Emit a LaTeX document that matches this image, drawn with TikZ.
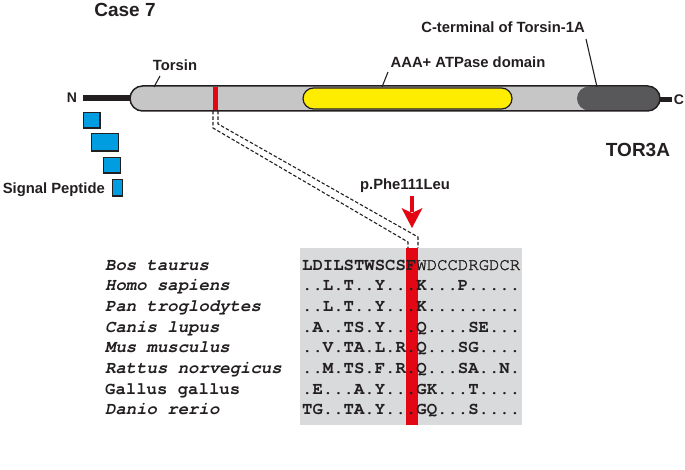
\documentclass[tikz,border=0pt]{standalone}
\usepackage{fontspec}
\setmainfont{Liberation Sans}
\newfontfamily\seqfont{TeX Gyre Cursor}
\newfontfamily\seqmid[FakeBold=1.5]{TeX Gyre Cursor}
\definecolor{ink}{HTML}{231F20}
\definecolor{bargray}{HTML}{C6C6C6}
\definecolor{ctermgray}{HTML}{58585A}
\definecolor{aaayellow}{HTML}{FFED00}
\definecolor{mutred}{HTML}{E30613}
\definecolor{sigblue}{HTML}{009EE0}
\definecolor{alnbg}{HTML}{D9DADB}
\begin{document}
\begin{tikzpicture}[x=1pt,y=-1pt,
  lbl/.style={font=\bfseries\fontsize{14.8}{17}\selectfont, text=ink, inner sep=0},
  big/.style={font=\bfseries\fontsize{19}{22}\selectfont, text=ink, inner sep=0},
  leader/.style={draw=ink, line width=1.1pt},
  sigbox/.style={draw=ink, line width=1.4pt, fill=sigblue},
  seq/.style={font=\seqfont\bfseries\fontsize{17.3}{20}\selectfont, text=ink, inner sep=0, anchor=base west},
  spec/.style={seq, font=\seqfont\bfseries\itshape\fontsize{17.3}{20}\selectfont},
  specup/.style={seq, font=\seqfont\bfseries\fontsize{17.3}{20}\selectfont},
  link/.style={draw=ink, dash pattern=on 3.5pt off 2pt, line width=1.1pt}
]
\useasboundingbox (0,0) rectangle (685,470);

% titles
\node[big] (case) at (125,10) {Case 7};
\node[big] (tor3a) at (638,150) {TOR3A};

% termini
\coordinate (nEnd) at (83,98);
\coordinate (barL) at (131,98);
\coordinate (barR) at (659,99.5);
\coordinate (cEnd) at (672,99.5);
\draw[ink, line width=6pt] (nEnd) -- (barL);
\draw[ink, line width=5pt] (barR) -- (cEnd);
\node[lbl, font=\bfseries\fontsize{14}{16}\selectfont] (nlab) at (72,98) {N};
\node[lbl, font=\bfseries\fontsize{14}{16}\selectfont] (clab) at (679,99.5) {C};

% protein bar
\fill[bargray, rounded corners=12.5pt] (130,86) rectangle (660,111);
\fill[ctermgray, rounded corners=12pt] (577,86.5) rectangle (660,110.5);
\draw[fill=aaayellow, draw=ink, line width=1.2pt, rounded corners=10.5pt] (303,88) rectangle (512,109);
\fill[mutred] (213,87) rectangle (218,110);
\draw[ink, line width=1.5pt, rounded corners=12.5pt] (130,86) rectangle (660,111);

% domain labels and leaders
\node[lbl] (torsin) at (175,65) {Torsin};
\node[lbl] (aaa) at (468,62) {AAA+ ATPase domain};
\node[lbl] (cterm) at (503,27) {C-terminal of Torsin-1A};
\coordinate (torsinA) at (160,76);
\coordinate (torsinB) at (154,87);
\coordinate (aaaA) at (388,72);
\coordinate (aaaB) at (382,87);
\coordinate (ctermA) at (586,39);
\coordinate (ctermB) at (597,87);
\draw[leader] (torsinA) -- (torsinB);
\draw[leader] (aaaA) -- (aaaB);
\draw[leader] (ctermA) -- (ctermB);

% signal peptide
\draw[sigbox] (83.5,112.5) rectangle (100,128);
\draw[sigbox] (91.5,133.5) rectangle (118.5,151);
\draw[sigbox] (103.5,157.5) rectangle (120.5,173);
\draw[sigbox] (112.5,179.5) rectangle (122.5,196);
\node[lbl, anchor=east] (sigp) at (105,190) {Signal Peptide};

% alignment block
\fill[alnbg] (300,248) rectangle (522,425);
\fill[mutred] (406,248) rectangle (418,425);

% dashed zoom link
\coordinate (la) at (213,111);
\coordinate (lb) at (213,128);
\coordinate (lc) at (408,242);
\coordinate (ld) at (408,248);
\coordinate (ra) at (218,111);
\coordinate (rb) at (218,124);
\coordinate (rc) at (418,237);
\coordinate (rd) at (418,248);
\draw[link] (la) -- (lb) -- (lc) -- (ld);
\draw[link] (ra) -- (rb) -- (rc) -- (rd);

% mutation arrow
\node[lbl] (mut) at (405,186) {p.Phe111Leu};
\coordinate (arrTop) at (412,196);
\coordinate (arrTip) at (412,228);
\draw[mutred, line width=4.5pt] (arrTop) -- (412,212);
\fill[mutred] (arrTip) -- (401.5,208) -- (412,213) -- (422.5,208) -- cycle;

% species names
\node[spec] (s1) at (105,270) {Bos taurus};
\node[spec] (s2) at (105,290.7) {Homo sapiens};
\node[spec] (s3) at (105,311.4) {Pan troglodytes};
\node[spec] (s4) at (105,332.1) {Canis lupus};
\node[spec] (s5) at (105,352.8) {Mus musculus};
\node[spec] (s6) at (105,373.5) {Rattus norvegicus};
\node[specup] (s7) at (105,394.2) {Gallus gallus};
\node[spec] (s8) at (105,414.9) {Danio rerio};

% sequences
\node[seq] (q1) at (302,270) {LDILSTWSCSF{\seqmid\mdseries\fontsize{17.3}{20}\selectfont WDCCDRGDCR}};
\node[seq] (q2) at (302,290.7) {..L.T..Y...K...P.....};
\node[seq] (q3) at (302,311.4) {..L.T..Y...K.........};
\node[seq] (q4) at (302,332.1) {.A..TS.Y...Q....SE...};
\node[seq] (q5) at (302,352.8) {..V.TA.L.R.Q...SG....};
\node[seq] (q6) at (302,373.5) {..M.TS.F.R.Q...SA..N.};
\node[seq] (q7) at (302,394.2) {.E...A.Y...GK...T....};
\node[seq] (q8) at (302,414.9) {TG..TA.Y...GQ...S....};
\end{tikzpicture}
\end{document}
